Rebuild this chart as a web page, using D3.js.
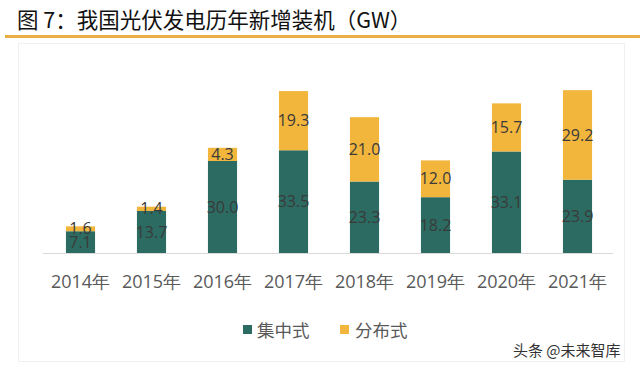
<!DOCTYPE html>
<html><head><meta charset="utf-8">
<script src="https://cdn.jsdelivr.net/npm/d3@7"></script>
<style>body{margin:0;background:#fff}svg{display:block}</style>
</head><body>
<script>
const years = ["2014年","2015年","2016年","2017年","2018年","2019年","2020年","2021年"];
const centralized = [7.1,13.7,30.0,33.5,23.3,18.2,33.1,23.9];
const distributed = [1.6,1.4,4.3,19.3,21.0,12.0,15.7,29.2];
const seriesNames = ["集中式","分布式"];
const colors = ["#2C6B61","#F2B63D"];

const W=640,H=368;
const svg=d3.select("body").append("svg").attr("width",W).attr("height",H);
const cjk="'Noto Sans CJK SC','Noto Sans',sans-serif";
const num="'Open Sans','Liberation Sans',sans-serif";

// title
svg.append("text").attr("x",17).attr("y",28).attr("font-family",cjk).attr("font-size",21.5).attr("font-weight",400).attr("fill","#111")
  .text("图 7：我国光伏发电历年新增装机（GW）");
svg.append("rect").attr("x",5).attr("y",35).attr("width",635).attr("height",3).attr("fill","#EAAE45");
// frame
svg.append("rect").attr("x",18.5).attr("y",43.5).attr("width",606).attr("height",318).attr("fill","none").attr("stroke","#f0f0f0");

const x=d3.scaleBand().domain(years).range([45,613]).paddingInner(0.59).paddingOuter(0.295);
const y=d3.scaleLinear().domain([0,60]).range([253,69]);

const data=years.map((yr,i)=>({yr,c:centralized[i],d:distributed[i]}));
const stack=d3.stack().keys(["c","d"])(data);

const g=svg.append("g");
stack.forEach((s,si)=>{
  g.selectAll(null).data(s).enter().append("rect")
   .attr("x",d=>x(d.data.yr)).attr("width",x.bandwidth())
   .attr("y",d=>y(d[1])).attr("height",d=>y(d[0])-y(d[1]))
   .attr("fill",colors[si]);
});
// axis line
svg.append("line").attr("x1",43).attr("x2",613).attr("y1",253.5).attr("y2",253.5).attr("stroke","#d9d9d9").attr("stroke-width",1);

// labels
stack.forEach((s,si)=>{
  g.selectAll(null).data(s).enter().append("text")
   .attr("x",d=>x(d.data.yr)+x.bandwidth()/2)
   .attr("y",d=>(y(d[0])+y(d[1]))/2)
   .attr("dy","0.35em").attr("text-anchor","middle")
   .attr("font-family",num).attr("font-size",16).attr("fill","#3a3a3a")
   .text(d=>(d[1]-d[0]).toFixed(1));
});

// x axis labels
const ax=svg.append("g").attr("transform","translate(0,253)").call(d3.axisBottom(x).tickSize(0).tickPadding(22));
ax.select(".domain").remove();
ax.selectAll("text").attr("font-family",num).attr("font-size",18).attr("fill","#595959");

// legend
const leg=[{x:243,tx:257},{x:340,tx:355}];
seriesNames.forEach((n,i)=>{
  svg.append("rect").attr("x",leg[i].x).attr("y",325).attr("width",9).attr("height",9).attr("fill",colors[i]);
  svg.append("text").attr("x",leg[i].tx).attr("y",337).attr("font-family",cjk).attr("font-size",17.5).attr("fill","#595959").text(n);
});

// watermark
svg.append("text").attr("x",513).attr("y",356).attr("font-family",cjk).attr("font-size",15).attr("fill","#333").text("头条 @未来智库");
</script>
</body></html>
